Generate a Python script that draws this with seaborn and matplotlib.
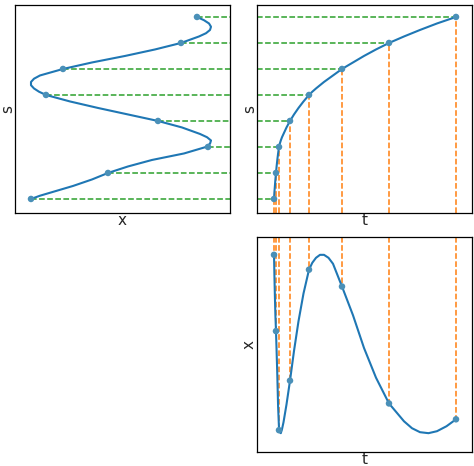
import numpy as np
import matplotlib
matplotlib.use("Agg")
import matplotlib.pyplot as plt
import seaborn as sns

sns.set_theme(style="white")
plt.rcParams['font.family'] = ['DejaVu Sans']

# sample points
s_pts = [0, 1, 2, 3, 4, 5, 6, 7]
x_pts = [31, 108, 208, 158, 46, 63, 181, 197]
t_pts = [274, 276, 279, 290, 309, 342, 389, 456]

# curve
s_curve = [0, 0.125, 0.25, 0.5, 0.75, 1, 1.25, 1.5, 1.75, 2, 2.125, 2.25, 2.375, 2.5, 2.75, 3, 3.25, 3.5,
           3.75, 4, 4.125, 4.25, 4.375, 4.5, 4.625, 4.75, 5, 5.25, 5.5, 5.75, 6, 6.25, 6.375, 6.5, 6.625, 6.75, 6.875, 7]
x_curve = [31, 40, 51, 73, 92, 108, 128, 152, 184, 206, 210, 211, 207, 200, 182, 158, 128, 98,
           70, 46, 39, 34, 31, 31, 34, 40, 63, 92, 125, 155, 181, 199, 206, 210, 211, 209, 204, 197]
t_curve = [274, 274.2, 274.4, 274.9, 275.4, 276, 276.6, 277.3, 278.1, 279, 279.8, 280.8, 282, 283.5, 286.5, 290, 294, 298.5,
           303.5, 309, 312.3, 316, 320, 324, 328.5, 333, 342, 353, 364, 376, 389, 404, 412, 420, 428.5, 437, 446.5, 456]

W, H = 474, 466
fig = plt.figure(figsize=(W/100, H/100), dpi=100)
ax1 = fig.add_axes([15/W, 1-213/H, 215/W, 208/H])
ax2 = fig.add_axes([257/W, 1-213/H, 215/W, 208/H])
ax3 = fig.add_axes([257/W, 1-452/H, 215/W, 215/H])

blue, orange, green = "#1f77b4", "#ff7f0e", "#2ca02c"
slim = (-0.54, 7.46)
xlim = (15, 230)
tlim = (257, 472)

ax1.set_xlim(xlim); ax1.set_ylim(slim)
ax2.set_xlim(tlim); ax2.set_ylim(slim)
ax3.set_xlim(tlim); ax3.set_ylim(230, 13)

for s, x, t in zip(s_pts, x_pts, t_pts):
    ax1.plot([x, xlim[1]], [s, s], ls="--", color=green, lw=1.1)
    ax2.plot([tlim[0], t], [s, s], ls="--", color=green, lw=1.1)
    ax2.plot([t, t], [slim[0], s], ls="--", color=orange, lw=1.1)
    ax3.plot([t, t], [13, x], ls="--", color=orange, lw=1.1)

kw = dict(sort=False, estimator=None, color=blue, lw=1.5)
sns.lineplot(x=x_curve, y=s_curve, ax=ax1, **kw)
sns.lineplot(x=t_curve, y=s_curve, ax=ax2, **kw)
sns.lineplot(x=t_curve, y=x_curve, ax=ax3, **kw)
sk = dict(color="#4a90b8", s=22, zorder=5, edgecolor="none")
sns.scatterplot(x=x_pts, y=s_pts, ax=ax1, **sk)
sns.scatterplot(x=t_pts, y=s_pts, ax=ax2, **sk)
sns.scatterplot(x=t_pts, y=x_pts, ax=ax3, **sk)

for ax, xl, yl in [(ax1, "x", "s"), (ax2, "t", "s"), (ax3, "t", "x")]:
    ax.set_xticks([]); ax.set_yticks([])
    ax.set_xlabel(xl, fontsize=11, labelpad=0)
    ax.set_ylabel(yl, fontsize=11, labelpad=0)
    for sp in ax.spines.values():
        sp.set_color("black"); sp.set_linewidth(0.9)

fig.savefig("out.png", dpi=100)
